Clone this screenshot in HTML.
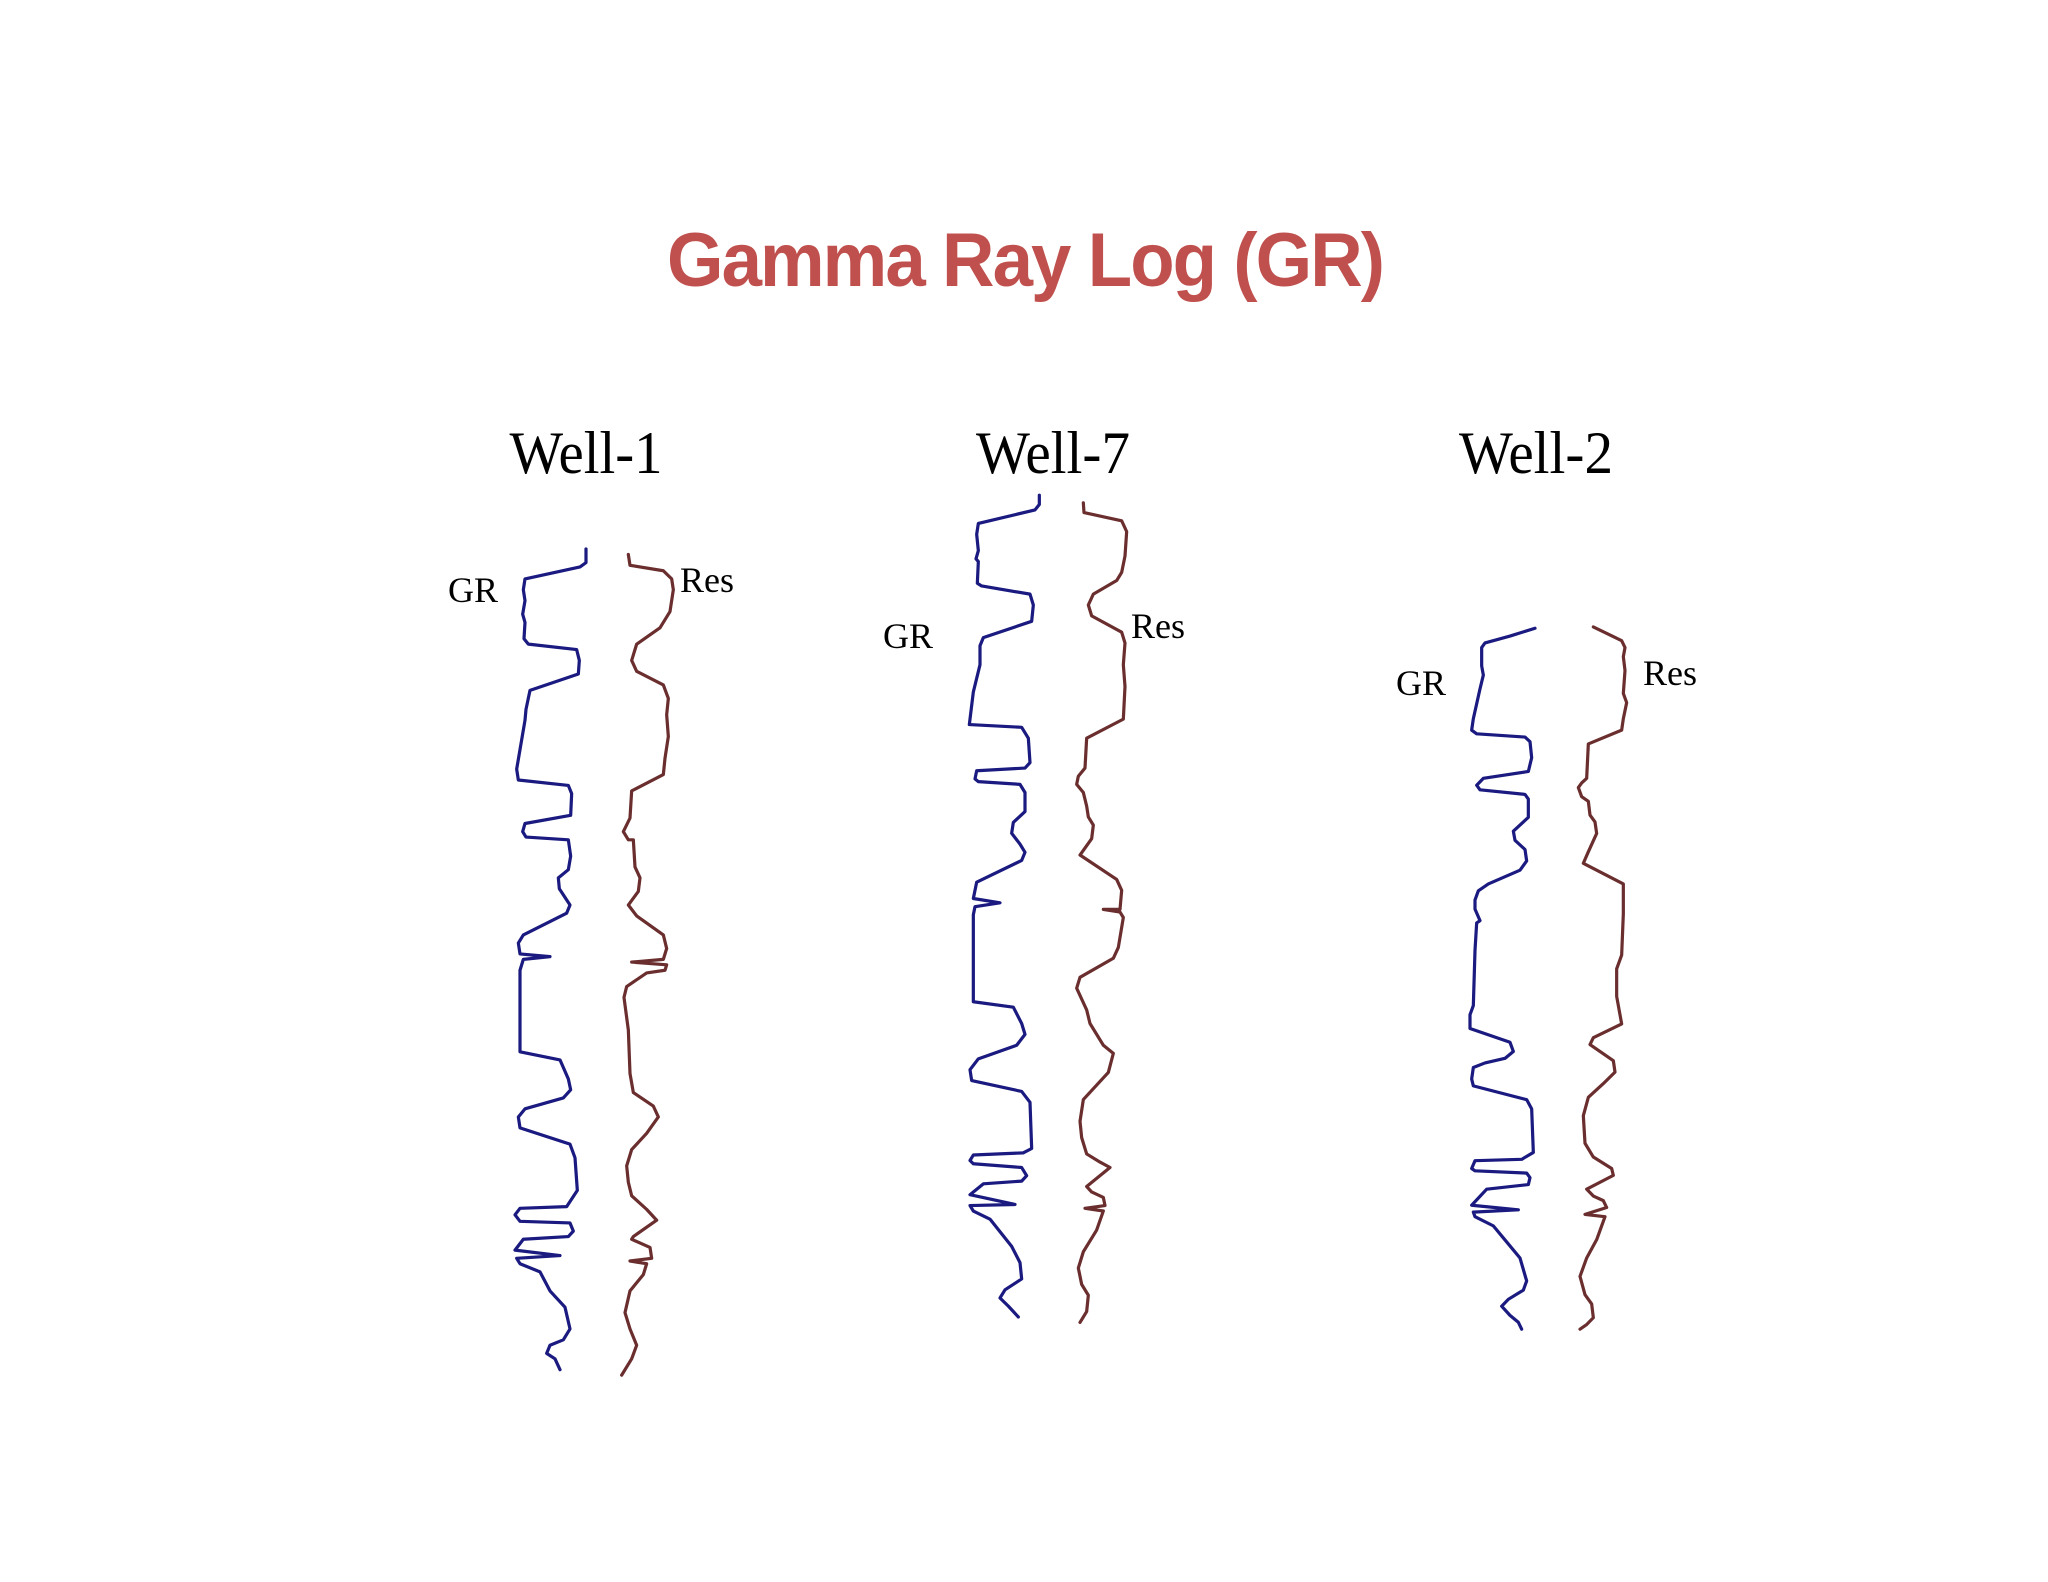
<!DOCTYPE html>
<html><head><meta charset="utf-8"><style>
html,body{margin:0;padding:0;background:#fff;}
body{width:2048px;height:1582px;position:relative;overflow:hidden;}
svg{position:absolute;left:0;top:0;}
</style></head><body>
<svg width="2048" height="1582" viewBox="0 0 2048 1582">
<text x="1025" y="286" text-anchor="middle" font-family="Liberation Sans, sans-serif" font-weight="bold" font-size="76" fill="#c0504d" letter-spacing="-2" textLength="716" lengthAdjust="spacingAndGlyphs">Gamma Ray Log (GR)</text>
<g font-family="Liberation Serif, serif" fill="#000">
<text x="586" y="473" text-anchor="middle" font-size="60" textLength="153" lengthAdjust="spacingAndGlyphs">Well-1</text>
<text x="1053" y="473" text-anchor="middle" font-size="60" textLength="154" lengthAdjust="spacingAndGlyphs">Well-7</text>
<text x="1536" y="473" text-anchor="middle" font-size="60" textLength="154" lengthAdjust="spacingAndGlyphs">Well-2</text>
<g font-size="36">
<text x="448" y="602">GR</text>
<text x="680" y="592">Res</text>
<text x="883" y="648">GR</text>
<text x="1131" y="638">Res</text>
<text x="1396" y="695">GR</text>
<text x="1643" y="685">Res</text>
</g>
</g>
<g fill="none" stroke-width="3.2" stroke-linejoin="round" stroke-linecap="round">
<g transform="translate(500,530) scale(0.33333,0.5435)">
<polyline vector-effect="non-scaling-stroke" stroke="#1a1a80" points="258,35 258,60 240,68 75,90 70,110 75,130 68,155 75,170 72,200 85,210 230,220 238,240 235,265 90,295 78,330 75,350 50,440 55,460 205,470 215,485 212,525 75,540 68,555 78,565 205,570 212,600 205,625 175,640 178,660 210,690 200,705 70,745 55,760 60,780 150,785 70,790 60,810 60,960 180,975 205,1010 212,1030 190,1045 75,1065 55,1080 60,1100 210,1130 225,1155 232,1215 200,1245 60,1248 45,1260 60,1272 210,1275 220,1290 205,1300 70,1305 45,1325 180,1335 50,1340 60,1350 120,1365 150,1400 195,1430 210,1470 190,1490 150,1500 140,1515 165,1525 180,1545"/>
<polyline vector-effect="non-scaling-stroke" stroke="#6b2e2e" points="385,45 390,65 490,75 515,90 520,110 510,150 480,180 410,210 395,240 410,260 490,285 505,310 500,340 505,380 495,420 490,450 395,480 390,530 370,555 385,570 400,570 405,620 420,640 415,665 385,690 410,710 490,745 500,770 490,790 395,795 500,800 495,810 440,815 380,840 372,860 385,920 390,1000 400,1035 460,1060 475,1080 440,1110 395,1140 380,1170 385,1200 395,1225 440,1250 470,1270 400,1300 395,1305 450,1320 455,1340 390,1345 440,1350 430,1370 390,1400 375,1440 390,1470 410,1500 395,1525 365,1555"/>
</g>
<g transform="translate(960,480) scale(0.33333,0.5435)">
<polyline vector-effect="non-scaling-stroke" stroke="#1a1a80" points="238,28 238,45 225,55 55,80 50,100 55,130 48,145 55,150 52,190 65,195 210,210 220,230 215,260 70,290 60,305 60,340 40,390 28,450 185,455 205,475 210,520 195,530 50,535 45,550 55,555 180,560 195,575 195,610 160,630 155,650 180,670 195,685 185,700 50,740 40,770 120,778 45,785 40,800 40,960 160,970 185,1000 195,1020 170,1040 55,1065 30,1085 35,1105 185,1125 210,1145 215,1230 190,1238 40,1242 30,1252 40,1258 185,1265 200,1280 185,1290 70,1295 30,1315 165,1333 30,1335 40,1345 90,1360 155,1410 180,1440 185,1470 135,1490 120,1505 145,1520 175,1540"/>
<polyline vector-effect="non-scaling-stroke" stroke="#6b2e2e" points="370,42 372,60 485,75 500,95 495,140 485,170 470,185 400,210 385,230 395,250 485,280 495,300 490,340 495,380 490,440 380,475 375,530 355,545 350,560 370,575 380,600 385,620 400,635 395,660 360,690 470,735 485,755 480,790 430,790 480,795 490,805 475,860 460,880 360,915 350,935 380,975 390,1000 430,1040 460,1055 445,1090 400,1120 370,1140 360,1180 365,1210 380,1240 420,1255 450,1265 380,1300 395,1310 430,1320 435,1335 375,1340 430,1345 410,1380 370,1420 355,1450 365,1480 385,1500 380,1530 360,1550"/>
</g>
<g transform="translate(1460,620) scale(0.33333,0.459)">
<polyline vector-effect="non-scaling-stroke" stroke="#1a1a80" points="225,18 150,35 75,50 65,60 65,100 70,120 60,150 40,215 35,240 50,248 195,255 210,265 215,300 205,330 70,345 50,360 60,370 195,380 205,390 205,430 160,460 165,480 195,500 200,525 180,545 85,575 55,590 45,610 45,630 60,655 50,660 45,720 40,840 30,860 30,890 150,920 160,940 135,955 75,965 40,975 35,1000 40,1015 200,1045 215,1065 220,1160 185,1175 45,1178 35,1195 45,1200 200,1205 210,1215 205,1230 80,1240 35,1275 175,1285 40,1290 45,1300 100,1320 140,1355 180,1390 200,1440 190,1460 145,1480 125,1495 150,1515 175,1530 185,1545"/>
<polyline vector-effect="non-scaling-stroke" stroke="#6b2e2e" points="400,15 485,45 495,60 490,80 495,110 490,160 500,180 490,215 485,240 385,270 380,345 365,355 355,365 365,385 385,395 390,425 405,440 410,465 385,505 370,530 490,575 490,640 485,730 470,760 470,820 480,860 485,880 400,910 390,925 460,960 465,985 430,1010 385,1040 370,1080 375,1140 400,1170 455,1195 460,1210 380,1240 400,1255 430,1265 440,1280 375,1295 435,1300 410,1350 380,1390 360,1430 375,1470 395,1490 400,1520 380,1535 360,1545"/>
</g>
</g>
</svg>
</body></html>
